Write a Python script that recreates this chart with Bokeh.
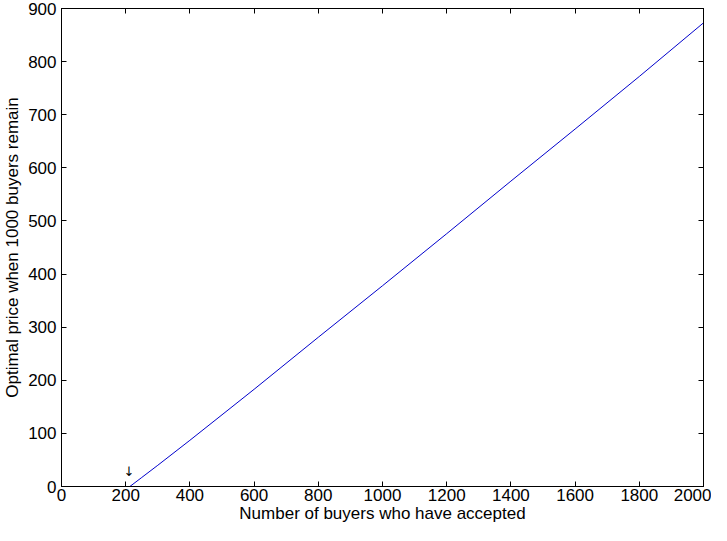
from bokeh.plotting import figure
from bokeh.models import LinearAxis, Range1d, SingleIntervalTicker, CustomJSTickFormatter
from bokeh.core.properties import value
from bokeh.embed import file_html
from bokeh.resources import INLINE

# data
buyers_accepted = [213, 250, 300, 400, 500, 600, 800, 1000, 1200, 1400, 1600, 1800, 2000]
optimal_price = [0, 17, 40, 87, 135, 183, 281, 378, 476, 575, 673, 772, 873]
arrow_x = [210]
arrow_y = [14]
arrow_text = ["↓"]

FONT = "Liberation Sans"
FS = "17px"

p = figure(width=711, height=525, output_backend="svg", toolbar_location=None,
           x_range=Range1d(0, 2000), y_range=Range1d(0, 900),
           min_border_left=0, min_border_right=8, min_border_top=8, min_border_bottom=0)
p.grid.visible = False
p.outline_line_color = "black"
p.outline_line_width = 1
p.background_fill_color = "white"
p.border_fill_color = "white"

p.line(buyers_accepted, optimal_price, line_color="#0000cc", line_width=1)
p.text(arrow_x, arrow_y, text=arrow_text, text_font=value("DejaVu Sans"), text_font_size="13px",
       text_align="center", text_baseline="bottom", text_color="#000000")

for ax in (p.xaxis[0], p.yaxis[0]):
    ax.major_tick_in = 5
    ax.major_tick_out = 0
    ax.minor_tick_in = 0
    ax.minor_tick_out = 0
    ax.axis_line_color = "black"
    ax.major_label_text_font = FONT
    ax.major_label_text_font_size = FS
    ax.major_label_text_color = "black"
    ax.axis_label_text_font = FONT
    ax.axis_label_text_font_size = FS
    ax.axis_label_text_font_style = "normal"
    ax.axis_label_text_color = "black"

p.xaxis[0].ticker = SingleIntervalTicker(interval=200)
p.yaxis[0].ticker = SingleIntervalTicker(interval=100)
p.xaxis[0].axis_label = "Number of buyers who have accepted"
p.yaxis[0].axis_label = "Optimal price when 1000 buyers remain"
p.xaxis[0].major_label_standoff = 2
p.yaxis[0].major_label_standoff = 5
p.xaxis[0].axis_label_standoff = 0
p.yaxis[0].axis_label_standoff = 3

blank = CustomJSTickFormatter(code="return '';")
top = LinearAxis(ticker=SingleIntervalTicker(interval=200), formatter=blank,
                 major_tick_in=5, major_tick_out=0, minor_tick_in=0, minor_tick_out=0,
                 major_label_standoff=0, axis_line_color="black")
right = LinearAxis(ticker=SingleIntervalTicker(interval=100), formatter=blank,
                   major_tick_in=5, major_tick_out=0, minor_tick_in=0, minor_tick_out=0,
                   major_label_standoff=0, axis_line_color="black")
p.add_layout(top, "above")
p.add_layout(right, "right")

open("out.html", "w").write(file_html(p, INLINE))
